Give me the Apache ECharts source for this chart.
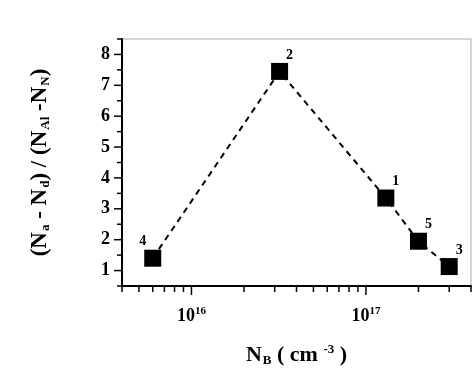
<!DOCTYPE html>
<html>
<head>
<meta charset="utf-8">
<script src="https://cdn.jsdelivr.net/npm/echarts@6/dist/echarts.min.js"></script>
<style>
  html, body { margin: 0; padding: 0; background: #fff; }
  #chart { width: 474px; height: 391px; }
</style>
</head>
<body>
<div id="chart"></div>
<script>
// sample number, boron concentration N_B (cm^-3), (Na-Nd)/(NAl-NN)
const sampleIds = ["4", "2", "1", "5", "3"]
const boronConc = [6.0e15, 3.2e16, 1.3e17, 2.0e17, 3.0e17]
const ratioValues = [1.40, 7.45, 3.35, 1.95, 1.13]

// axis ranges and tick marks
const xMin = 4e15
const xMax = 4e17
const yMin = 0.5
const yMax = 8.5
const xTickMantissas = [1, 2, 3, 4, 5, 6, 7, 8, 9]
const xTickDecades = [15, 16, 17]
const yTickValues = [0.5, 1, 1.5, 2, 2.5, 3, 3.5, 4, 4.5, 5, 5.5, 6, 6.5, 7, 7.5, 8, 8.5]

const FONT = "'Liberation Serif', 'DejaVu Serif', serif"

const xTicks = []
xTickDecades.forEach(d => {
  xTickMantissas.forEach(m => {
    const v = m * Math.pow(10, d)
    if (v >= xMin * 0.999 && v <= xMax * 1.001) xTicks.push([v, yMin, m === 1 ? 1 : 0])
  })
})
const yTicks = yTickValues.map(v => [xMin, v, Number.isInteger(v) ? 1 : 0])

const tickStyle = { stroke: "#000", lineWidth: 1.5 }

const chart = echarts.init(document.getElementById("chart"))
chart.setOption({
  animation: false,
  backgroundColor: "#fff",
  grid: {
    left: 122,
    right: 0,
    top: 39,
    bottom: 105,
    show: true,
    borderColor: "#aaa",
    borderWidth: 1,
  },
  xAxis: {
    type: "log",
    logBase: 10,
    min: xMin,
    max: xMax,
    splitLine: { show: false },
    axisTick: { show: false },
    axisLine: { lineStyle: { color: "#000", width: 2 } },
    axisLabel: {
      margin: 20,
      color: "#000",
      formatter: v => {
        const e = Math.log10(v)
        if (Math.abs(e - Math.round(e)) > 1e-6) return ""
        return "{b|10}{s|" + Math.round(e) + "}"
      },
      rich: {
        b: { fontFamily: FONT, fontWeight: "bold", fontSize: 18, color: "#000" },
        s: { fontFamily: FONT, fontWeight: "bold", fontSize: 11, color: "#000", padding: [0, 0, 10, 0] },
      },
    },
    name: "{n|N}{sub|B}{n| ( cm }{sup|-3}{n| )}",
    nameLocation: "middle",
    nameGap: 57,
    nameTextStyle: {
      rich: {
        n: { fontFamily: FONT, fontWeight: "bold", fontSize: 22, color: "#000" },
        sub: { fontFamily: FONT, fontWeight: "bold", fontSize: 13, color: "#000", padding: [10, 0, 0, 1] },
        sup: { fontFamily: FONT, fontWeight: "bold", fontSize: 13, color: "#000", padding: [0, 0, 12, 0] },
      },
    },
  },
  yAxis: {
    type: "value",
    min: yMin,
    max: yMax,
    splitNumber: 8,
    splitLine: { show: false },
    axisTick: { show: false },
    axisLine: { lineStyle: { color: "#000", width: 2 } },
    axisLabel: {
      margin: 12,
      color: "#000",
      fontFamily: FONT,
      fontWeight: "bold",
      fontSize: 18,
      formatter: v => (Number.isInteger(v) ? String(v) : ""),
    },
    name: "{n|(N}{sub|a}{n| - N}{sub|d}{n|) / (N}{sub|Al}{n| -N}{sub|N}{n|)}",
    nameLocation: "middle",
    nameRotate: 90,
    nameGap: 70,
    nameTextStyle: {
      rich: {
        n: { fontFamily: FONT, fontWeight: "bold", fontSize: 23, color: "#000" },
        sub: { fontFamily: FONT, fontWeight: "bold", fontSize: 13, color: "#000", padding: [10, 0, 0, 1] },
      },
    },
  },
  series: [
    {
      type: "line",
      data: boronConc.map((x, i) => ({
        value: [x, ratioValues[i]],
        name: sampleIds[i],
        label: { offset: i === 0 ? [-10, 0] : [10, 0] },
      })),
      symbol: "rect",
      symbolSize: 17,
      itemStyle: { color: "#000" },
      lineStyle: { color: "#000", width: 2, type: [6, 5] },
      label: {
        show: true,
        position: "top",
        distance: 1,
        formatter: p => p.name,
        fontFamily: FONT,
        fontWeight: "bold",
        fontSize: 14,
        color: "#000",
      },
      z: 5,
    },
    {
      type: "custom",
      silent: true,
      clip: false,
      data: xTicks,
      encode: { x: 0, y: 1 },
      renderItem: (params, api) => {
        const p = api.coord([api.value(0), api.value(1)])
        const len = api.value(2) ? 9 : 6
        return { type: "line", shape: { x1: p[0], y1: p[1], x2: p[0], y2: p[1] + len }, style: tickStyle }
      },
    },
    {
      type: "custom",
      silent: true,
      clip: false,
      data: yTicks,
      encode: { x: 0, y: 1 },
      renderItem: (params, api) => {
        const p = api.coord([api.value(0), api.value(1)])
        const len = api.value(2) ? 8 : 5
        return { type: "line", shape: { x1: p[0], y1: p[1], x2: p[0] - len, y2: p[1] }, style: tickStyle }
      },
    },
  ],
})
</script>
</body>
</html>
